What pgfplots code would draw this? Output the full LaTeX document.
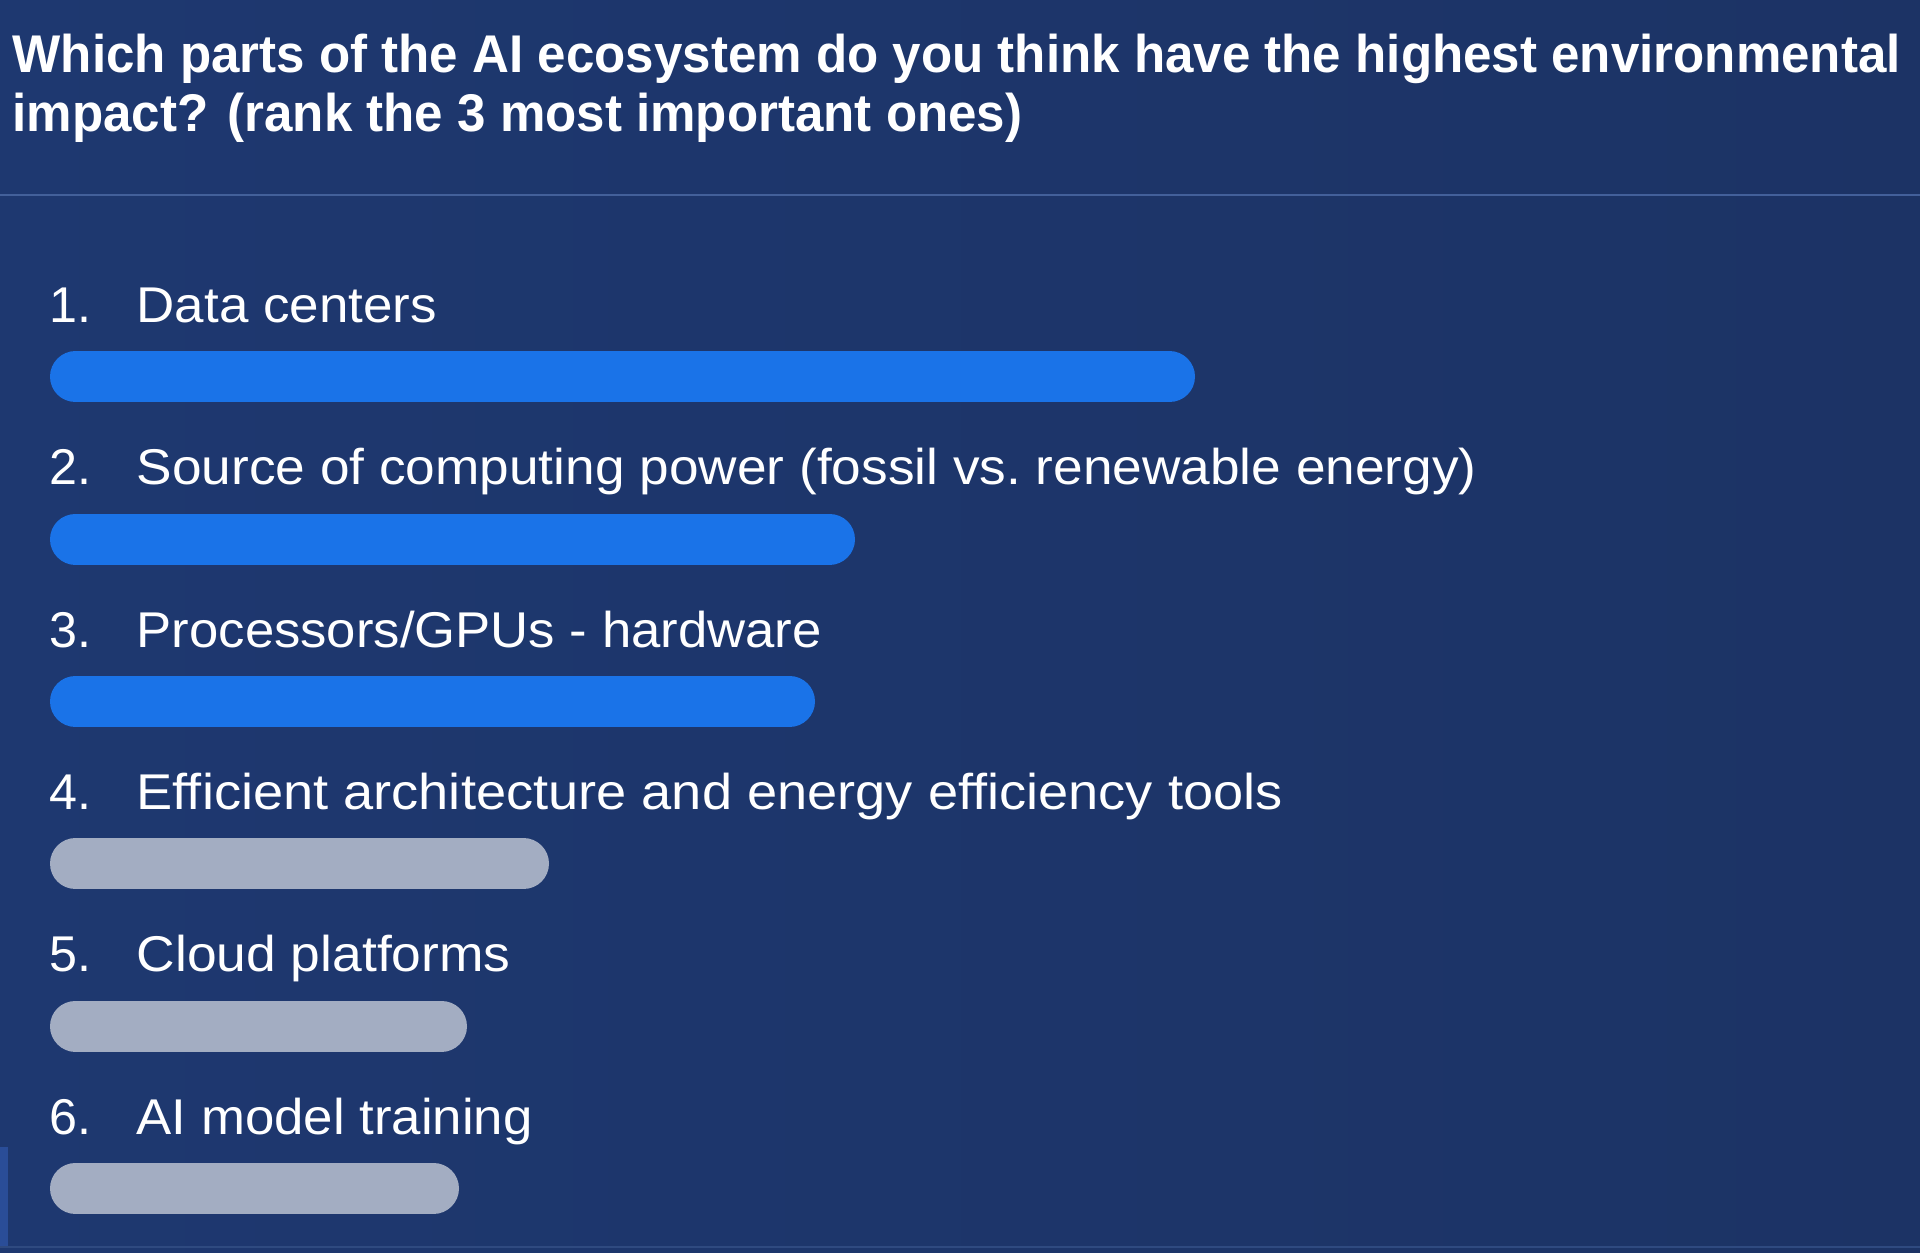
\documentclass[border=0pt]{standalone}
\usepackage{fontspec}
\setmainfont{Liberation Sans}[Ligatures=NoCommon]
\usepackage{graphicx}
\usepackage{pgfplots}
\pgfplotsset{compat=1.18}

\definecolor{bgleft}{HTML}{1E3870}
\definecolor{bgright}{HTML}{1C3365}
\definecolor{rulecol}{HTML}{43609A}
\definecolor{basecol}{HTML}{2F4A80}
\definecolor{accent}{HTML}{2A4D98}
\definecolor{topblue}{HTML}{1A73E8}
\definecolor{restgray}{HTML}{A3ADC2}

\newlength\titw
\newcommand\labfont{\fontsize{14.3pt}{16pt}\selectfont}
\newcommand\titfont{\fontsize{15.1pt}{17pt}\selectfont\bfseries}
% number, then the text pressed to the width it has on the reference
\newcommand\lab[3]{\makebox[8.7mm][l]{#1}\resizebox{#2}{\height}{#3}}

\begin{document}%
\settowidth\titw{\titfont Which parts of the AI ecosystem do you think have the highest environmental}%
\pgfmathsetmacro\titsc{(188.8mm)/(\titw)}%
\begin{tikzpicture}
\useasboundingbox (0,0) rectangle (192mm,125.2mm);
\shade[left color=bgleft, right color=bgright] (-1mm,-1mm) rectangle (193mm,126.2mm);
\draw[rulecol, line width=0.2mm] (-1mm,105.7mm) -- (193mm,105.7mm);
\draw[basecol, line width=0.25mm] (-1mm,0.5mm) -- (193mm,0.5mm);
\fill[accent] (-1mm,0.6mm) rectangle (0.8mm,10.5mm);

\begin{axis}[
    scale only axis,
    width=192mm,
    height=125.2mm,
    at={(0,0)}, anchor=south west,
    xmin=-75.5, xmax=1844.5,
    ymin=-1.3216, ymax=6.3925,
    y dir=reverse,
    enlargelimits=false,
    clip=false,
    axis line style={draw=none},
    tick style={draw=none},
    major tick length=0pt,
    xtick=\empty,
    ytick={1,2,3,4,5,6},
    yticklabels={
        {\lab{1.}{30.0mm}{Data centers}},
        {\lab{2.}{134.0mm}{Source of computing power (fossil vs.\ renewable energy)}},
        {\lab{3.}{68.5mm}{Processors/GPUs - hardware}},
        {\lab{4.}{114.6mm}{Efficient architecture and energy efficiency tools}},
        {\lab{5.}{37.4mm}{Cloud platforms}},
        {\lab{6.}{39.6mm}{AI model training}}
    },
    yticklabel style={anchor=base west, inner sep=0pt, xshift=4.9mm, yshift=5.43mm,
        text=white, font=\labfont},
]
% bar length in px of the reference; the round caps take 51 of it
\addplot[xcomb, draw=topblue, line width=5.1mm, line cap=round,
    x filter/.expression={x-51}] coordinates {
    (1145,1) (805,2) (765,3)
};
\addplot[xcomb, draw=restgray, line width=5.1mm, line cap=round,
    x filter/.expression={x-51}] coordinates {
    (499,4) (417,5) (409,6)
};
\end{axis}

\node[anchor=base west, inner sep=0pt, text=white, font=\titfont] at (1.2mm,117.93mm)
    {\scalebox{\titsc}[1]{Which parts of the AI ecosystem do you think have the highest environmental}};
\node[anchor=base west, inner sep=0pt, text=white, font=\titfont] at (1.2mm,112.03mm)
    {\scalebox{\titsc}[1]{impact? (rank the 3 most important ones)}};
\end{tikzpicture}%
\end{document}
